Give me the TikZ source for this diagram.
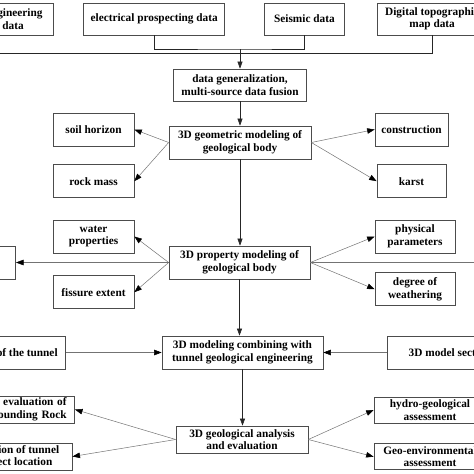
\documentclass[tikz,border=0pt]{standalone}
\usepackage{fontspec}
\setmainfont{Liberation Serif}
\usetikzlibrary{arrows.meta,positioning}

\begin{document}
\begin{tikzpicture}[
  x=1pt, y=-1pt,
  font=\bfseries\fontsize{11.3}{12.5}\selectfont,
  box/.style={draw=black!70, line width=0.7pt, fill=white, align=center,
              inner xsep=4pt, inner ysep=2pt, minimum height=33pt},
  low/.style={box, minimum height=27pt},
  line/.style={draw=black!85, line width=0.6pt},
  arr/.style={line, -{Triangle[length=7pt,width=5pt]}},
  sidearr/.style={draw=black!55, line width=0.5pt, -{Triangle[length=7.5pt,width=5.5pt,black]}}
]
  \useasboundingbox (0,0) rectangle (474,474);
  \clip (0,0) rectangle (474,474);

  % --- Top row: source data ---
  \node[box, minimum width=80pt, minimum height=32pt] (eng) at (13,19) {Engineering\\data};
  \node[box, minimum width=141pt, minimum height=32pt, right=30pt of eng] (elec) {electrical prospecting data};
  \node[box, minimum width=80pt, minimum height=32pt, right=39pt of elec] (seis) {Seismic data};
  \node[box, minimum width=110pt, minimum height=32pt, right=32pt of seis] (topo) {Digital topographic\\map data};

  % --- Collecting lines ---
  \coordinate (bus) at (240,49);
  \coordinate (busw) at (-5,53);
  \draw[line] (elec.south) |- (bus) -| (seis.south);
  \draw[line] (busw) -| (topo.south);

  % --- Central column ---
  \node[box, minimum width=133pt, minimum height=32pt] (gen) at (240,85) {data generalization,\\multi-source data fusion};
  \node[box, minimum width=142pt] (geom) at (240,142.5) {3D geometric modeling of\\geological body};
  \node[box, minimum width=141pt] (prop) at (239.5,262.5) {3D property modeling of\\geological body};
  \node[box, minimum width=161pt] (model) at (242.5,352.5) {3D modeling combining with\\tunnel geological engineering};
  \node[low, minimum width=132pt] (eval) at (242,439.5) {3D geological analysis\\and evaluation};

  \draw[arr] (bus) -- (gen.north);
  \draw[arr] (gen.south) -- (gen.south |- geom.north);
  \draw[arr] (geom.south) -- (geom.south |- prop.north);
  \draw[arr] (prop.south) -- (prop.south |- model.north);
  \draw[arr] (model.south) -- (model.south |- eval.north);

  % --- Geometric model: parts ---
  \node[box, minimum width=81pt] (soil) at (93.5,129.5) {soil horizon};
  \node[box, minimum width=81pt, below=18pt of soil] (rock) {rock mass};
  \node[box, minimum width=73pt] (constr) at (411.5,129.5) {construction};
  \node[box, minimum width=69pt, below=18pt of constr] (karst) {karst};

  \draw[sidearr] (geom.west) -- (soil.east);
  \draw[sidearr] (geom.west) -- (rock.east);
  \draw[sidearr] (geom.east) -- (constr.west);
  \draw[sidearr] (geom.east) -- (karst.west);

  % --- Property model: parameters ---
  \node[box, minimum width=81pt] (water) at (93.5,236.5) {water\\properties};
  \node[box, minimum width=81pt, below=22pt of water] (fiss) {fissure extent};
  \node[box, minimum width=80pt] (phys) at (415,236.5) {physical\\parameters};
  \node[box, minimum width=80pt, below=19pt of phys] (weath) {degree of\\weathering};
  \node[box, minimum width=80pt, anchor=east] (outl) at (16,262.5) {};
  \coordinate (outr) at (500,262.5);

  \draw[sidearr] (prop.west) -- (water.east);
  \draw[sidearr] (prop.west) -- (fiss.east);
  \draw[sidearr] (prop.west) -- (outl.east);
  \draw[sidearr] (prop.east) -- (phys.west);
  \draw[sidearr] (prop.east) -- (weath.west);
  \draw[sidearr] (prop.east) -- (outr);

  % --- Tunnel inputs ---
  \node[box, anchor=east, inner xsep=8pt] (tunnel) at (66,352.5) {of the tunnel};
  \node[box, anchor=west, minimum width=125pt] (sect) at (387,352.5) {3D model section};

  \draw[sidearr] (tunnel.east) -- (model.west);
  \draw[sidearr] (sect.west) -- (model.east);

  % --- Analysis results ---
  \node[low, anchor=east, text width=90pt, align=right, inner xsep=8pt] (surr) at (75,409.5) {evaluation of\\surrounding Rock};
  \node[low, minimum width=115pt] (site) at (14.6,456.5) {Selection of tunnel\\project location};
  \node[box, minimum width=112pt, minimum height=26pt] (hydro) at (430,410) {hydro-geological\\assessment};
  \node[box, minimum width=112pt, minimum height=26pt, below=20pt of hydro] (genv) {Geo-environmental\\assessment};

  \draw[sidearr] (eval.west) -- (surr.east);
  \draw[sidearr] (eval.west) -- (site.east);
  \draw[sidearr] (eval.east) -- (hydro.west);
  \draw[sidearr] (eval.east) -- (genv.west);
\end{tikzpicture}
\end{document}
